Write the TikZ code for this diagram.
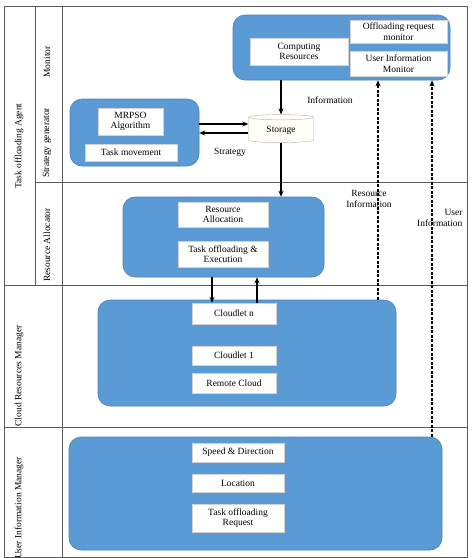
\documentclass[tikz,border=0pt]{standalone}
\usepackage{fontspec}
\setmainfont{Liberation Serif}
\usetikzlibrary{shapes.geometric,arrows.meta}
\definecolor{bluefill}{HTML}{5B9BD5}
\definecolor{blueedge}{HTML}{4A82BC}
\definecolor{laneline}{HTML}{5A5A5A}

\begin{document}
\begin{tikzpicture}[x=1pt, y=-1pt, font=\fontsize{9.5}{10.5}\selectfont,
  >={Stealth[length=6pt,width=5pt]},
  bluebox/.style={draw=blueedge, fill=bluefill, rounded corners=12pt, line width=0.6pt, inner sep=0pt},
  whitebox/.style={draw=gray!35, fill=white, align=center, inner sep=1pt},
  lanetext/.style={rotate=90, font=\fontsize{9.5}{11}\selectfont},
  flow/.style={->, line width=1.4pt},
  infoflow/.style={->, line width=1.3pt, dash pattern=on 3pt off 1.5pt}]

\fill [white] (0,0) rectangle (474,558);
\useasboundingbox (0,0) rectangle (474,558);

\draw [laneline, line width=0.8pt] (4,6) rectangle (467,557);
\draw [laneline, line width=0.8pt] (35,6) -- (35,285);
\draw [laneline, line width=0.8pt] (62,6) -- (62,557);
\draw [laneline, line width=0.8pt] (35,182) -- (467,182);
\draw [laneline, line width=0.8pt] (4,285) -- (467,285);
\draw [laneline, line width=0.8pt] (4,427) -- (467,427);

\node (agent) [lanetext] at (19,146) {Task offloading Agent};
\node (monlane) [lanetext] at (47,62) {Monitor};
\node (stratlane) [lanetext] at (47,143) {Strategy generator};
\node (alloclane) [lanetext] at (47,245) {Resource Allocator};
\node (cloudlane) [lanetext] at (19,376) {Cloud Resources Manager};
\node (userlane) [lanetext] at (19,508) {User Information Manager};

\node (mon) [bluebox, minimum width=217, minimum height=65] at (341.5,47.5) {};
\node (comp) [whitebox, minimum width=98, minimum height=27] at (299,51.5) {Computing\\Resources};
\node (offreq) [whitebox, minimum width=97, minimum height=23] at (398.5,31.5) {Offloading request\\monitor};
\node (uimon) [whitebox, minimum width=97, minimum height=25] at (398.5,63.5) {User Information\\Monitor};

\node (strat) [bluebox, minimum width=129, minimum height=67] at (134.5,132.5) {};
\node (mrpso) [whitebox, minimum width=65, minimum height=27] at (130.5,121.5) {MRPSO\\Algorithm};
\node (taskmv) [whitebox, minimum width=92, minimum height=17] at (131,152.5) {Task movement};

\node (stor) [draw=gray!60, fill=yellow!3, cylinder, shape border rotate=90, aspect=0.18, minimum width=65, minimum height=28, inner sep=0pt] at (281,130) {Storage};

\node (ralloc) [bluebox, minimum width=201, minimum height=80] at (223.5,237) {};
\node (resalloc) [whitebox, minimum width=90, minimum height=25] at (223,214.5) {Resource\\Allocation};
\node (taskexec) [whitebox, minimum width=90, minimum height=26] at (223,254) {Task offloading \&\\Execution};

\node (cloud) [bluebox, minimum width=298, minimum height=106] at (247,353) {};
\node (cln) [whitebox, minimum width=84, minimum height=21] at (234,313.5) {Cloudlet n};
\node (cl1) [whitebox, minimum width=84, minimum height=19] at (234,355.5) {Cloudlet 1};
\node (remote) [whitebox, minimum width=84, minimum height=20] at (234,383) {Remote Cloud};

\node (uinfo) [bluebox, minimum width=373, minimum height=113] at (255.5,493.5) {};
\node (speed) [whitebox, minimum width=92, minimum height=19] at (238,452.5) {Speed \& Direction};
\node (loc) [whitebox, minimum width=92, minimum height=18] at (238,483) {Location};
\node (req) [whitebox, minimum width=92, minimum height=28] at (238,518) {Task offloading\\Request};

\draw [flow] (mon.south -| stor.north) -- (stor.north);
\draw [flow] ([yshift=6pt]strat.east |- stor.west) -- ([yshift=6pt]stor.west);
\draw [flow] ([yshift=-3pt]stor.west) -- ([yshift=-3pt]stor.west -| strat.east);
\draw [flow] (stor.south) -- (stor.south |- ralloc.north);
\draw [flow] ([xshift=-22pt]cln.north |- ralloc.south) -- ([xshift=-22pt]cln.north);
\draw [flow] ([xshift=23pt]cln.north) -- ([xshift=23pt]cln.north |- ralloc.south);
\draw [infoflow] ([xshift=-20.5pt]uimon.south |- cloud.north) -- ([xshift=-20.5pt]uimon.south |- mon.south);
\draw [infoflow] ([xshift=33.5pt]uimon.south |- uinfo.north) -- ([xshift=33.5pt]uimon.south |- mon.south);

\node (infolbl) at (330,100) {Information};
\node (stratlbl) at (230,152) {Strategy};
\node (reslbl) [align=center] at (369,199) {Resource\\Information};
\node (userlbl) [align=right, anchor=east] at (466,218) {User\\Information};
\end{tikzpicture}
\end{document}
